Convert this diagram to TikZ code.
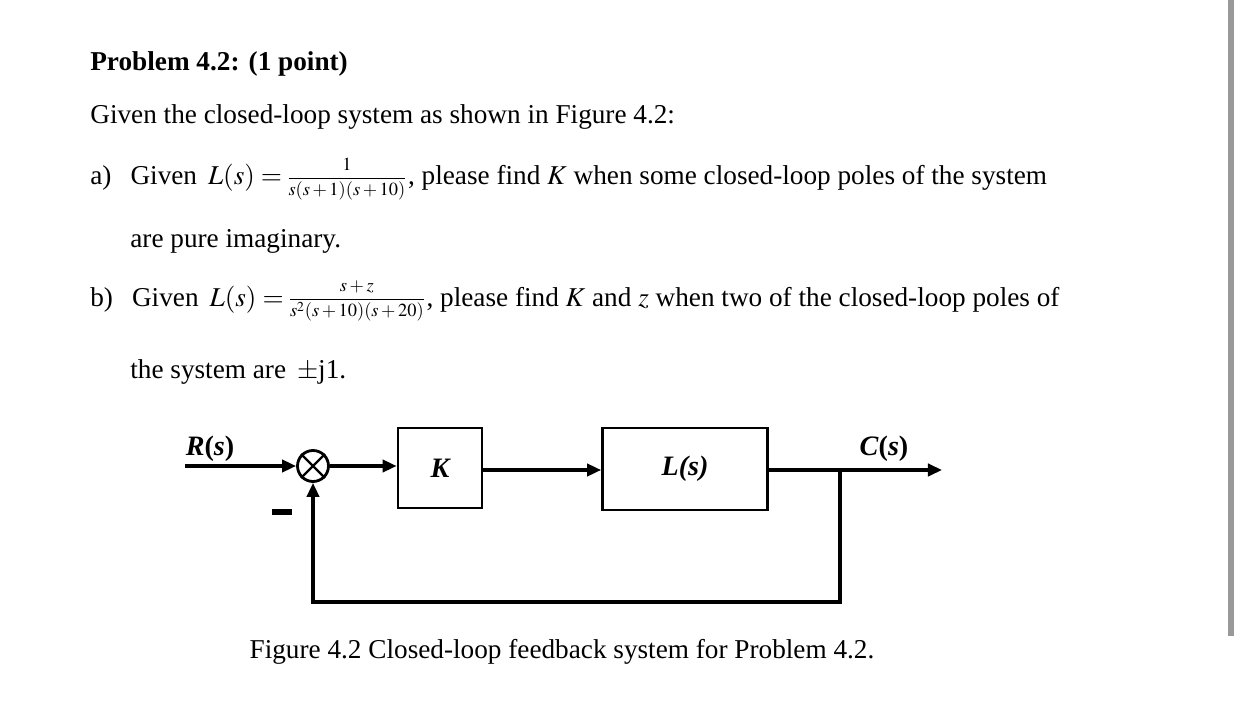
\documentclass[tikz,border=0pt]{standalone}
\usepackage{amsmath}
\usepackage{mathptmx}
\usepackage{fontspec}
\setmainfont{Liberation Serif}
\usetikzlibrary{positioning,arrows.meta}
\tikzset{
    txt/.style={anchor=base west, inner sep=0pt, font=\fontsize{15.5}{18}\selectfont},
    frac/.style={anchor=west, inner sep=0pt, font=\fontsize{10.5}{12}\selectfont},
    block/.style={rectangle, draw=black, line width=1.6pt, inner sep=0pt,
           font=\bfseries\itshape\fontsize{16}{18}\selectfont},
    lbl/.style={font=\bfseries\fontsize{16}{18}\selectfont, anchor=base},
    sig/.style={line width=1.8pt},
    arr/.style={sig, -{Triangle[length=8pt,width=7pt]}},
}
\begin{document}
\begin{tikzpicture}[x=0.02cm, y=-0.02cm]
    \useasboundingbox (0,0) rectangle (1240,712);
    \draw[gray!80, line width=3pt] (1231,0) -- (1231,636);
    % text of the problem
    \node[txt, font=\bfseries\fontsize{15.5}{18}\selectfont] (title) at (90,71) {Problem 4.2: (1 point)};
    \node[txt] (intro) at (90,124) {Given the closed-loop system as shown in Figure 4.2:};
    \node[txt] (qa) at (90,185) {a)\hspace{0.7em}Given\hspace{0.4em}$L(s) =$};
    \node[frac, xshift=2pt, yshift=0.12cm] (fa) at (qa.base east) {$\dfrac{1}{s(s+1)(s+10)}$};
    \node[txt] (qa2) at (fa.east |- qa.base) {, please find $K$ when some closed-loop poles of the system};
    \node[txt] (qa3) at (130,248) {are pure imaginary.};
    \node[txt] (qb) at (90,307) {b)\hspace{0.7em}Given\hspace{0.4em}$L(s) =$};
    \node[frac, xshift=2pt, yshift=0.12cm] (fb) at (qb.base east) {$\dfrac{s+z}{s^2(s+10)(s+20)}$};
    \node[txt] (qb2) at (fb.east |- qb.base) {, please find $K$ and $z$ when two of the closed-loop poles of};
    \node[txt] (qb3) at (130,379) {the system are\hspace{0.4em}$\pm$j1.};
    % block diagram
    \coordinate (in) at (185,466);
    \node[circle, draw, line width=1.6pt, minimum size=0.62cm] (sum) at (313,466) {};
    \draw[line width=1.4pt] (sum.north west) -- (sum.south east) (sum.north east) -- (sum.south west);
    \node[block, minimum width=1.68cm, minimum height=1.6cm] (K) at (440,468) {K};
    \node[block, minimum width=3.3cm, minimum height=1.64cm] (L) at (685,469) {L(s)};
    \coordinate (tap) at (840,470);
    \coordinate (out) at (942,470);
    \coordinate (fb1) at (840,602);
    \coordinate (fb2) at (313,602);
    \draw[arr] (in) -- (sum.west);
    \draw[arr] (sum.east) -- (K.west |- sum);
    \draw[arr] (K.east |- tap) -- (L.west |- tap);
    \draw[arr] (L.east |- tap) -- (out);
    \draw[arr] (tap) -- (fb1) -- (fb2) -- (sum.south);
    \node[lbl] (R) at (210,456) {\textit{R}(\textit{s})};
    \node[lbl] (C) at (884,456) {\textit{C}(\textit{s})};
    \fill (272,509) rectangle (292,515);
    \node[txt, anchor=base] (cap) at (562,658) {Figure 4.2 Closed-loop feedback system for Problem 4.2.};
\end{tikzpicture}
\end{document}
